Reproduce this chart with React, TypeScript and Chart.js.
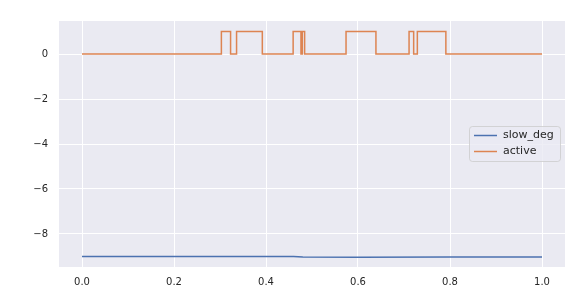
import React, { useEffect, useRef } from "react";
import { Chart, registerables } from "chart.js";

Chart.register(...registerables);

const slowDegX = [0.0, 0.2, 0.4, 0.46, 0.48, 0.6, 0.8, 1.0];
const slowDegY = [-9.0, -9.0, -9.0, -9.0, -9.03, -9.04, -9.03, -9.03];

const activeX = [0.0, 0.303, 0.323, 0.336, 0.392, 0.459, 0.476, 0.479, 0.484, 0.574, 0.639, 0.711, 0.721, 0.729, 0.791, 1.0];
const activeY = [0, 1, 0, 1, 0, 1, 0, 1, 0, 1, 0, 1, 0, 1, 0, 0];

const xTicks = [0, 0.2, 0.4, 0.6, 0.8, 1.0];
const yTicks = [-8, -6, -4, -2, 0];
const seriesNames = ["slow_deg", "active"];
const seriesColors = ["#4c72b0", "#dd8452"];

function stepPoints(xs: number[], ys: number[]) {
  const pts: { x: number; y: number }[] = [{ x: xs[0], y: ys[0] }];
  for (let i = 1; i < xs.length; i++) {
    if (ys[i] !== ys[i - 1]) pts.push({ x: xs[i], y: ys[i - 1] });
    pts.push({ x: xs[i], y: ys[i] });
  }
  return pts;
}

export default function App() {
  const ref = useRef<HTMLCanvasElement>(null);
  useEffect(() => {
    document.body.style.margin = "0";
    const canvas = ref.current!;
    const font = "'DejaVu Sans', sans-serif";
    const bgPlugin = {
      id: "bg",
      beforeDraw(chart: any) {
        const { ctx, chartArea: a } = chart;
        ctx.save();
        ctx.fillStyle = "#eaeaf2";
        ctx.fillRect(a.left, a.top, a.right - a.left, a.bottom - a.top);
        ctx.restore();
      },
    };
    const legendPlugin = {
      id: "customLegend",
      afterDraw(chart: any) {
        const { ctx } = chart;
        const x = 469, y = 126, w = 91, h = 35;
        ctx.save();
        ctx.fillStyle = "rgba(234,234,242,0.8)";
        ctx.strokeStyle = "rgba(204,204,204,0.8)";
        ctx.lineWidth = 1;
        ctx.beginPath();
        (ctx as any).roundRect(x + 0.5, y + 0.5, w, h, 3);
        ctx.fill();
        ctx.stroke();
        ctx.font = `11px ${font}`;
        ctx.textBaseline = "middle";
        seriesNames.forEach((n, i) => {
          const ly = y + 9.5 + i * 16;
          ctx.strokeStyle = seriesColors[i];
          ctx.lineWidth = 1.5;
          ctx.beginPath();
          ctx.moveTo(x + 5, ly);
          ctx.lineTo(x + 28, ly);
          ctx.stroke();
          ctx.fillStyle = "#262626";
          ctx.fillText(n, x + 34, ly);
        });
        ctx.restore();
      },
    };
    const chart = new Chart(canvas, {
      type: "line",
      data: {
        datasets: [
          {
            label: seriesNames[0],
            data: slowDegX.map((x, i) => ({ x, y: slowDegY[i] })),
            borderColor: seriesColors[0],
            borderWidth: 1.5,
            pointRadius: 0,
            tension: 0,
          },
          {
            label: seriesNames[1],
            data: stepPoints(activeX, activeY),
            borderColor: seriesColors[1],
            borderWidth: 1.5,
            pointRadius: 0,
            tension: 0,
          },
        ],
      },
      options: {
        animation: false,
        responsive: false,
        layout: { padding: { top: 21, right: 17, left: 0, bottom: 0 } },
        plugins: { legend: { display: false }, tooltip: { enabled: false } },
        scales: {
          x: {
            type: "linear",
            min: -0.05,
            max: 1.05,
            afterBuildTicks: (s: any) => { s.ticks = xTicks.map((v) => ({ value: v })); },
            afterFit: (s: any) => { s.height = 30; },
            border: { display: false },
            grid: { color: "#ffffff", lineWidth: 1, drawTicks: false },
            ticks: {
              padding: 9,
              color: "#262626",
              font: { family: font, size: 10 },
              maxRotation: 0,
              callback: (v: any) => Number(v).toFixed(1),
            },
          },
          y: {
            type: "linear",
            min: -9.47,
            max: 1.47,
            afterBuildTicks: (s: any) => { s.ticks = yTicks.map((v) => ({ value: v })); },
            afterFit: (s: any) => { s.width = 59; },
            border: { display: false },
            grid: { color: "#ffffff", lineWidth: 1, drawTicks: false },
            ticks: {
              padding: 11,
              color: "#262626",
              font: { family: font, size: 10 },
              callback: (v: any) => (Number(v) < 0 ? "\u2212" + Math.abs(Number(v)) : String(v)),
            },
          },
        },
      },
      plugins: [bgPlugin, legendPlugin],
    });
    return () => chart.destroy();
  }, []);
  return <canvas ref={ref} width={582} height={297} style={{ display: "block" }} />;
}
